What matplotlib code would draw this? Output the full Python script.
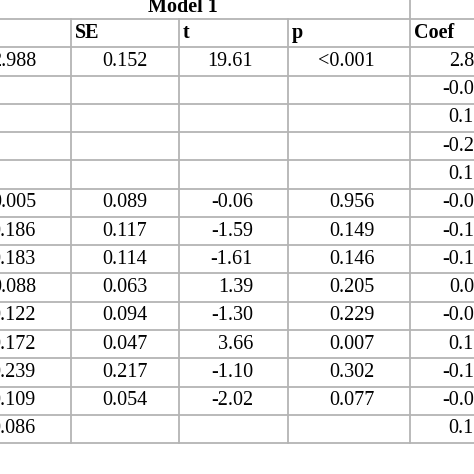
import matplotlib.pyplot as plt

# table content (visible part of a cropped regression table)
headers = ["", "SE", "t", "p", "Coef"]
coef1 = ["2.988", "", "", "", "", "0.005", "0.186", "0.183", "0.088", "0.122",
         "0.172", "0.239", "0.109", "0.086"]
se = ["0.152", "", "", "", "", "0.089", "0.117", "0.114", "0.063", "0.094",
      "0.047", "0.217", "0.054", ""]
tval = ["19.61", "", "", "", "", "-0.06", "-1.59", "-1.61", "1.39", "-1.30",
        "3.66", "-1.10", "-2.02", ""]
pval = ["<0.001", "", "", "", "", "0.956", "0.149", "0.146", "0.205", "0.229",
        "0.007", "0.302", "0.077", ""]
coef2 = ["2.8", "-0.0", "0.1", "-0.2", "0.1", "-0.0", "-0.1", "-0.1", "0.0", "-0.0",
         "0.1", "-0.1", "-0.0", "0.1"]

col_x = [71, 179, 288, 410]
top = 19
row_h = 28.27
n_rows = len(coef1) + 1
line_c = "#b4b4b4"

plt.rcParams["font.family"] = "Liberation Serif"
fs = 14.5

fig = plt.figure(figsize=(4.74, 4.74), dpi=100)
ax = fig.add_axes([0, 0, 1, 1])
ax.set_xlim(0, 474)
ax.set_ylim(474, 0)
ax.axis("off")

# grid
for i in range(n_rows + 1):
    y = top + i * row_h
    ax.plot([0, 474], [y, y], color=line_c, lw=1.3)
for j, x in enumerate(col_x):
    y0 = 0 if j == 3 else top
    ax.plot([x, x], [y0, top + n_rows * row_h], color=line_c, lw=1.3)

ax.text(183, 7, "Model 1", ha="center", va="center", fontsize=fs, fontweight="bold")

hy = top + row_h / 2
for x, h in zip([0] + col_x, headers):
    if h:
        ax.text(x + 4, hy, h, ha="left", va="center", fontsize=fs, fontweight="bold")

for i in range(len(coef1)):
    y = top + (i + 1.5) * row_h
    ax.text(36, y, coef1[i], ha="right", va="center", fontsize=fs, clip_on=True)
    ax.text(125, y, se[i], ha="center", va="center", fontsize=fs)
    ax.text(253, y, tval[i], ha="right", va="center", fontsize=fs)
    ax.text(375, y, pval[i], ha="right", va="center", fontsize=fs)
    ax.text(474, y, coef2[i], ha="right", va="center", fontsize=fs, clip_on=True)

fig.savefig("out.png", dpi=100)
